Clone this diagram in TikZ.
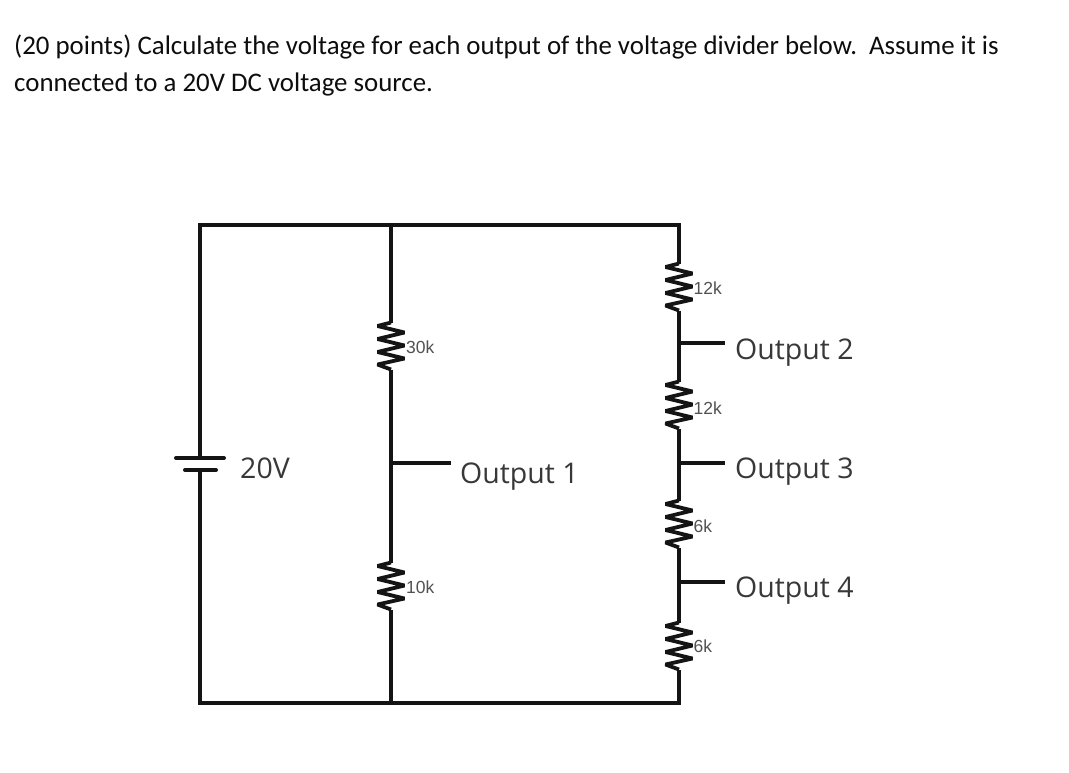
\documentclass[tikz,border=0pt]{standalone}
\usepackage{fontspec}
\setmainfont{Carlito}
\newfontfamily\lblfont{Open Sans}
\newfontfamily\valfont{Liberation Sans}
\tikzset{
  wire/.style={line width=4.4pt,line cap=butt,line join=miter,black!92},
  thinwire/.style={line width=3.8pt,black!92},
  zig/.style={line width=3.8pt,line join=miter,miter limit=3,black!92},
  plate/.style={line width=4pt,line cap=round,black!92},
  heading/.style={anchor=base west,inner sep=0pt,font=\fontsize{26.86}{30}\selectfont,text=black!95},
  outlabel/.style={anchor=base west,inner sep=0pt,font=\lblfont\fontsize{28.5}{32}\selectfont,text=black!78},
  vallabel/.style={anchor=base west,inner sep=0pt,font=\valfont\fontsize{17.5}{18}\selectfont,text=black!68}
}
\newcommand{\resistor}[3]{% name, x, centre y
  \coordinate (#1a) at (#2,#3-23.5);
  \coordinate (#1b) at (#2,#3+23.5);
  \draw[zig] (#1a) -- (#2-13.5,#3-20) -- (#2+13.5,#3-13.5) -- (#2-13.5,#3-7) -- (#2+13.5,#3-0.5)
    -- (#2-13.5,#3+6) -- (#2+13.5,#3+12.5) -- (#2-13.5,#3+18.5) -- (#1b);
}
\begin{document}
\begin{tikzpicture}[x=1pt,y=-1pt]
\useasboundingbox (0,0) rectangle (1069,772);
\fill[white] (0,0) rectangle (1069,772);
\node[heading] (h1) at (14,54) {(20 points) Calculate the voltage for each output of the voltage divider below.\ \ Assume it is};
\node[heading] (h2) at (14,91) {connected to a 20V DC voltage source.};
% corners and junctions
\coordinate (tl) at (200,225);
\coordinate (tm) at (391,225);
\coordinate (tr) at (679,225);
\coordinate (bl) at (200,703);
\coordinate (bm) at (391,703);
\coordinate (br) at (679,703);
\coordinate (battop) at (200,458);
\coordinate (batbot) at (200,470);
% resistors
\resistor{ra}{391}{346}
\resistor{rb}{391}{586}
\resistor{rc}{679}{287}
\resistor{rd}{679}{405}
\resistor{re}{679}{524}
\resistor{rf}{679}{646}
% outer wires
\draw[wire] (battop) -- (tl) -- (tr) -- (rca);
\draw[wire] (batbot) -- (bl) -- (br) -- (rfb);
\draw[wire] (tm) -- (raa);
\draw[wire] (bm) -- (rbb);
\draw[thinwire] (rab) -- (rba);
\draw[thinwire] (rcb) -- (rda);
\draw[thinwire] (rdb) -- (rea);
\draw[thinwire] (reb) -- (rfa);
% battery plates
\draw[plate] (176,458) -- (224,458);
\draw[plate] (185,470) -- (216,470);
% output stubs
\coordinate (j1) at (391,463);
\coordinate (j2) at (679,343);
\coordinate (j3) at (679,463);
\coordinate (j4) at (679,582);
\coordinate (s1) at (451,463);
\coordinate (s2) at (725,343);
\coordinate (s3) at (725,463);
\coordinate (s4) at (725,582);
\draw[thinwire] (j1) -- (s1);
\draw[thinwire] (j2) -- (s2);
\draw[thinwire] (j3) -- (s3);
\draw[thinwire] (j4) -- (s4);
% labels
\node[outlabel] (bat) at (240,478) {20V};
\node[outlabel] (o1) at (460,483) {Output 1};
\node[outlabel] (o2) at (735,359) {Output 2};
\node[outlabel] (o3) at (735,478) {Output 3};
\node[outlabel] (o4) at (735,597) {Output 4};
\node[vallabel] (v1) at (406,353) {30k};
\node[vallabel] (v2) at (406,593) {10k};
\node[vallabel] (v3) at (693.5,294) {12k};
\node[vallabel] (v4) at (693.5,414) {12k};
\node[vallabel] (v5) at (693.5,532) {6k};
\node[vallabel] (v6) at (693.5,652) {6k};
\end{tikzpicture}
\end{document}
